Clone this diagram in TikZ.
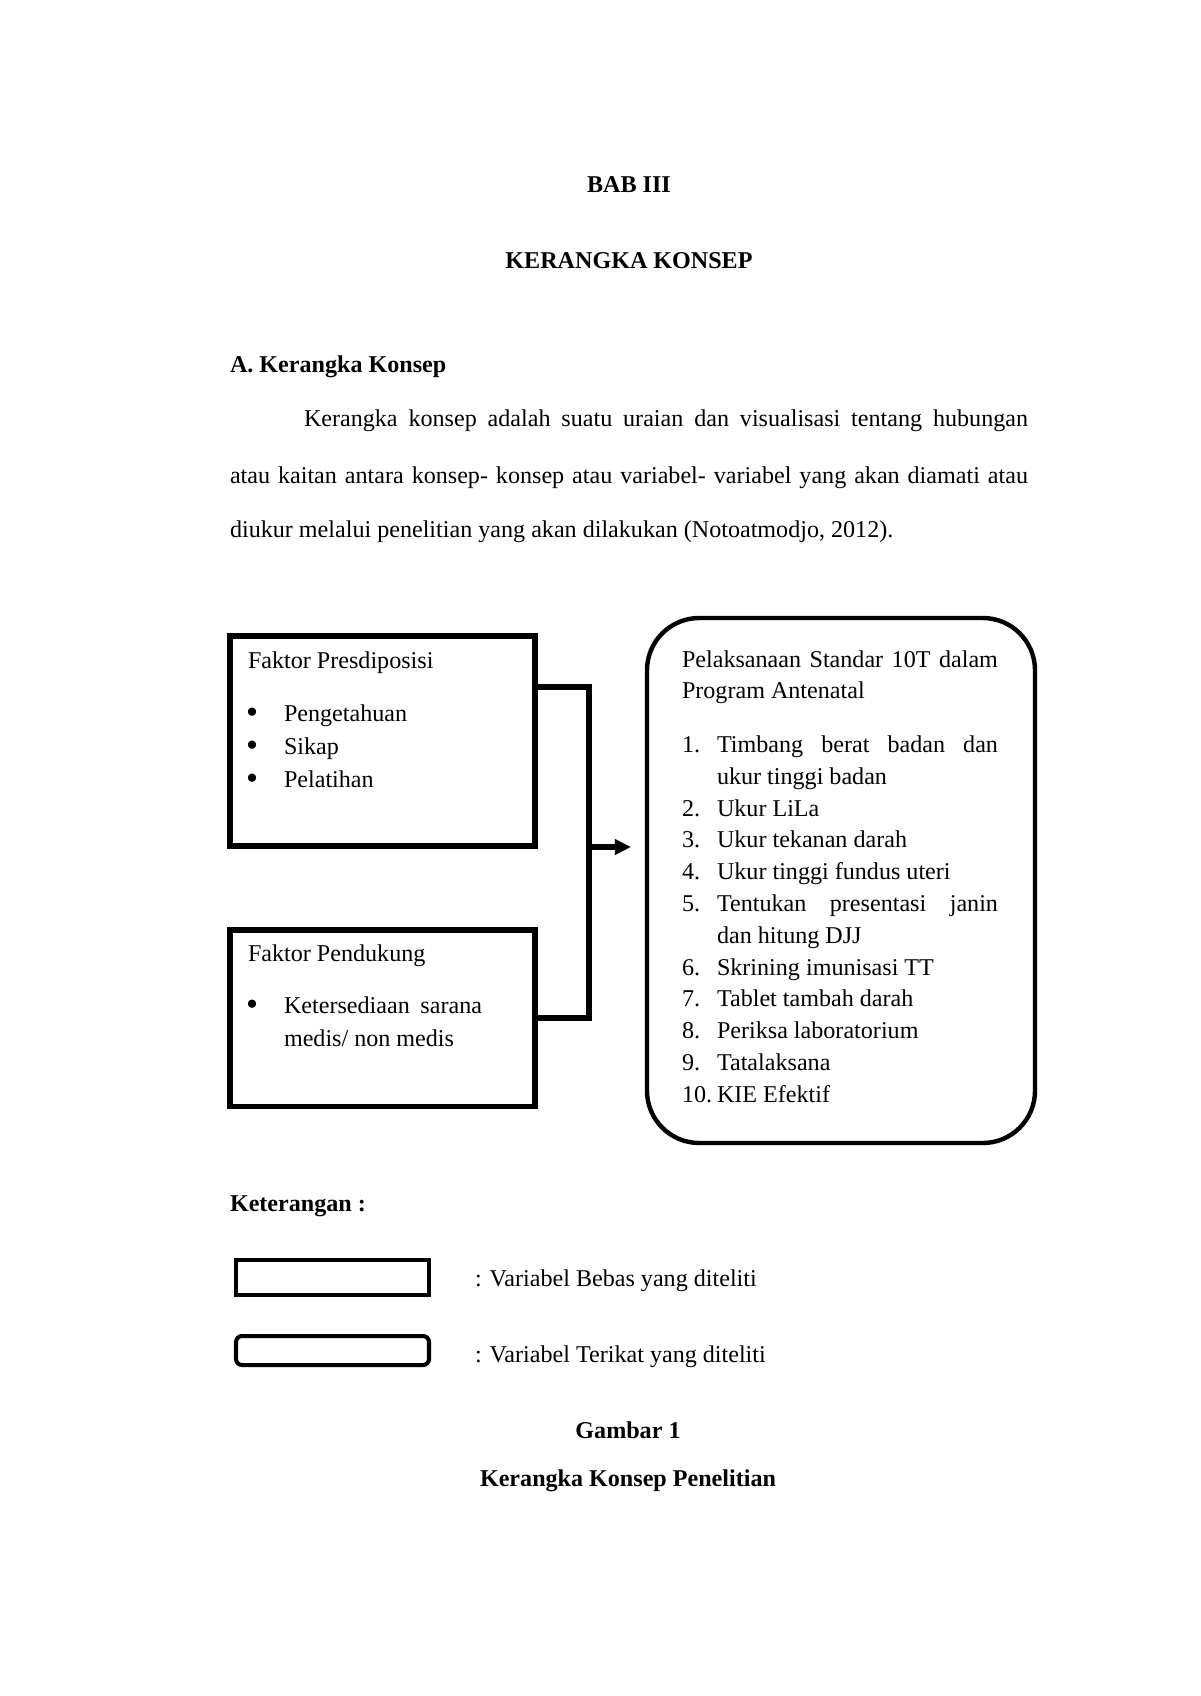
\documentclass[tikz,border=0pt]{standalone}
\usepackage{fontspec}
\setmainfont{Liberation Serif}
\usetikzlibrary{arrows.meta}
\def\pxu{0.4979pt}
\tikzset{
  txt/.style={anchor=base west, inner sep=0pt, outer sep=0pt, font=\fontsize{12}{14}\selectfont},
  bul/.style={anchor=base, inner sep=0pt, outer sep=0pt, font=\fontsize{17}{17}\selectfont},
  ctxt/.style={anchor=base, inner sep=0pt, outer sep=0pt, font=\fontsize{12}{14}\selectfont\bfseries},
  bold/.style={txt, font=\fontsize{12}{14}\selectfont\bfseries},
  sqbox/.style={draw, line width=2.5pt, rectangle, inner sep=0pt, outer sep=0pt},
  rbox/.style={draw, line width=2.2pt, rectangle, rounded corners=26pt, inner sep=0pt, outer sep=0pt},
  legsq/.style={draw, line width=2pt, rectangle, inner sep=0pt, outer sep=0pt},
  legrd/.style={draw, line width=2pt, rectangle, rounded corners=3pt, inner sep=0pt, outer sep=0pt},
  conn/.style={line width=2.5pt, line join=miter},
  arr/.style={conn, -{Triangle[length=8pt,width=7.5pt]}, shorten >=8pt},
}
\begin{document}
\begin{tikzpicture}[x=\pxu, y=-\pxu]
\useasboundingbox (0,0) rectangle (1200,1696);
\fill[white] (0,0) rectangle (1200,1696);

% headings
\node[ctxt] (bab) at (629,193) {BAB III};
\node[ctxt] (kk) at (629,269) {KERANGKA KONSEP};
\node[bold] (seca) at (230,373) {A. Kerangka Konsep};

% paragraph
\node[txt] (p1) at (304,427) {\makebox[360.5pt][s]{Kerangka konsep adalah suatu uraian dan visualisasi tentang hubungan}};
\node[txt] (p2) at (230,483) {\makebox[397.3pt][s]{atau kaitan antara konsep- konsep atau variabel- variabel yang akan diamati atau}};
\node[txt] (p3) at (230,537) {diukur melalui penelitian yang akan dilakukan (Notoatmodjo, 2012).};

% boxes
\node[sqbox, minimum width=305*\pxu, minimum height=210*\pxu] (box1) at (382.5,741) {};
\node[sqbox, minimum width=305*\pxu, minimum height=176*\pxu] (box2) at (382.5,1018) {};
\node[rbox, minimum width=388*\pxu, minimum height=525*\pxu] (box3) at (841,880.5) {};

% box1 text
\node[txt] (b1t) at (248,668) {Faktor Presdiposisi};
\node[bul] (b1u1) at (252,723) {\textbullet};
\node[txt] (b1a) at (284,721) {Pengetahuan};
\node[bul] (b1u2) at (252,756) {\textbullet};
\node[txt] (b1b) at (284,754) {Sikap};
\node[bul] (b1u3) at (252,789) {\textbullet};
\node[txt] (b1c) at (284,787) {Pelatihan};

% box2 text
\node[txt] (b2t) at (248,961) {Faktor Pendukung};
\node[bul] (b2u1) at (252,1015) {\textbullet};
\node[txt] (b2a) at (284,1013) {\makebox[98.6pt][s]{Ketersediaan sarana}};
\node[txt] (b2b) at (284,1046) {medis/ non medis};

% box3 text
\node[txt] (b3t1) at (682,667) {\makebox[157.3pt][s]{Pelaksanaan Standar 10T dalam}};
\node[txt] (b3t2) at (682,698) {Program Antenatal};
\node[txt] (n1) at (682,752) {1.};
\node[txt] (i1) at (717,752) {\makebox[139.9pt][s]{Timbang berat badan dan}};
\node[txt] (i1b) at (717,784) {ukur tinggi badan};
\node[txt] (n2) at (682,816) {2.};
\node[txt] (i2) at (717,816) {Ukur LiLa};
\node[txt] (n3) at (682,847) {3.};
\node[txt] (i3) at (717,847) {Ukur tekanan darah};
\node[txt] (n4) at (682,879) {4.};
\node[txt] (i4) at (717,879) {Ukur tinggi fundus uteri};
\node[txt] (n5) at (682,911) {5.};
\node[txt] (i5) at (717,911) {\makebox[139.9pt][s]{Tentukan presentasi janin}};
\node[txt] (i5b) at (717,943) {dan hitung DJJ};
\node[txt] (n6) at (682,975) {6.};
\node[txt] (i6) at (717,975) {Skrining imunisasi TT};
\node[txt] (n7) at (682,1006) {7.};
\node[txt] (i7) at (717,1006) {Tablet tambah darah};
\node[txt] (n8) at (682,1038) {8.};
\node[txt] (i8) at (717,1038) {Periksa laboratorium};
\node[txt] (n9) at (682,1070) {9.};
\node[txt] (i9) at (717,1070) {Tatalaksana};
\node[txt] (n10) at (682,1102) {10.};
\node[txt] (i10) at (717,1102) {KIE Efektif};

% connectors
\coordinate (j1) at (589,687);
\coordinate (j2) at (589,1018);
\coordinate (ja) at (589,847);
\draw[conn] (box1.east |- j1) -- (j1) -- (j2) -- (box2.east);
\draw[arr] (ja) -- (ja -| box3.west);

% legend
\node[bold] (ket) at (230,1211) {Keterangan :};
\node[legsq, minimum width=193*\pxu, minimum height=35*\pxu] (leg1) at (332.5,1277.5) {};
\node[legrd, minimum width=193*\pxu, minimum height=29*\pxu] (leg2) at (332.5,1350.5) {};
\node[txt] (leg1t) at (475,1286) {: Variabel Bebas yang diteliti};
\node[txt] (leg2t) at (475,1362) {: Variabel Terikat yang diteliti};

% caption
\node[ctxt] (gam) at (628,1438) {Gambar 1};
\node[ctxt] (cap) at (628,1486) {Kerangka Konsep Penelitian};
\end{tikzpicture}
\end{document}
